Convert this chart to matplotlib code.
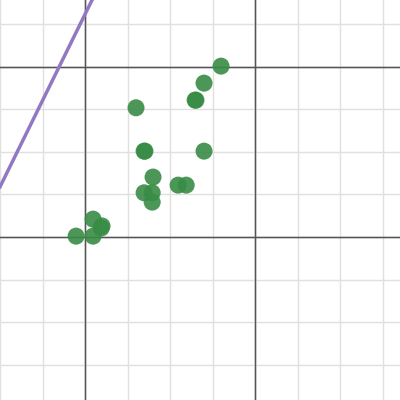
import matplotlib
matplotlib.use("Agg")
import matplotlib.pyplot as plt
import numpy as np

xs = [-0.21, 0.19, 0.19, 0.38, 0.40, 1.2, 1.39, 1.41, 1.39, 1.58, 1.58, 1.6, 2.19, 2.38, 2.59, 2.61, 2.8, 2.8, 3.2]
ys = [0.02, 0.02, 0.42, 0.21, 0.26, 3.04, 2.02, 2.02, 1.04, 1.04, 0.82, 1.41, 1.22, 1.22, 3.22, 3.22, 3.62, 2.02, 4.02]
line_slope = 2.03
line_intercept = 5.24

fig = plt.figure(figsize=(4, 4), dpi=100)
ax = fig.add_axes([0, 0, 1, 1])
xmin, xmax = -2.0, 7.41
ymin, ymax = -3.835, 5.576
ax.set_xlim(xmin, xmax); ax.set_ylim(ymin, ymax)
for v in np.arange(-2, 8, 1):
    ax.axvline(v, color='#e0e0e0' if v % 4 else '#888888', lw=1 if v % 4 else 1.0, zorder=0)
for v in np.arange(-4, 6, 1):
    ax.axhline(v, color='#e0e0e0' if v % 4 else '#888888', lw=1, zorder=0)
ax.axvline(0, color='#555555', lw=1, zorder=1)
ax.axhline(0, color='#555555', lw=1, zorder=1)
ax.axhline(4, color='#555555', lw=1, zorder=1)
ax.axvline(4, color='#555555', lw=1, zorder=1)
lx = np.array([xmin, xmax])
ax.plot(lx, line_slope * lx + line_intercept, color='#9079c2', lw=2.5, zorder=2)
ax.scatter(xs, ys, s=150, color='#388c46', alpha=0.9, edgecolors='none', zorder=3)
ax.axis('off')
fig.savefig('out.png', dpi=100)
